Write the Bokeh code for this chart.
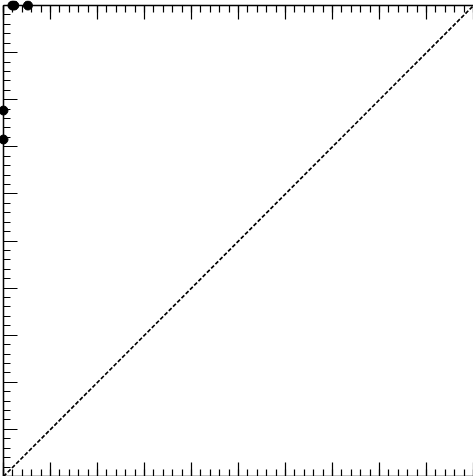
from bokeh.plotting import figure
from bokeh.models import LinearAxis, SingleIntervalTicker, Range1d, CustomJSTickFormatter
from bokeh.embed import file_html
from bokeh.resources import INLINE

# data: points (false positive rate, true positive rate) and reference diagonal
pts_x = [0.0, 0.0, 0.019, 0.023, 0.052]
pts_y = [0.7155, 0.777, 1.0, 1.0, 1.0]
diag_x = [0.0, 1.0]
diag_y = [0.0, 1.0]

# a few extra pixels of frame on the left and top so that edge points are not cut
PAD = 5
FW, FH = 470, 471
p = figure(frame_width=FW + PAD, frame_height=FH + PAD, output_backend="svg",
           toolbar_location=None,
           x_range=Range1d(-PAD / FW, 1), y_range=Range1d(0, 1 + PAD / FH),
           x_axis_location=None, y_axis_location=None, min_border=0,
           margin=(5 - PAD, 0, 0, 3 - PAD))
p.outline_line_color = None
p.grid.visible = False
p.background_fill_color = "white"
p.border_fill_color = "white"


def make_axis(loc=None):
    ax = LinearAxis(ticker=SingleIntervalTicker(interval=0.1, num_minor_ticks=5),
                    formatter=CustomJSTickFormatter(code="return ''"),
                    bounds=(0, 1))
    if loc is not None:
        ax.fixed_location = loc
    ax.major_tick_in = 14
    ax.major_tick_out = 0
    ax.minor_tick_in = 7
    ax.minor_tick_out = 0
    ax.major_tick_line_color = "black"
    ax.minor_tick_line_color = "black"
    ax.major_tick_line_width = 1.2
    ax.minor_tick_line_width = 1.2
    ax.axis_line_color = "black"
    ax.axis_line_width = 1.5
    ax.major_label_standoff = 0
    return ax


p.add_layout(make_axis(), "below")
p.add_layout(make_axis(1), "above")
p.add_layout(make_axis(0), "left")

p.line(diag_x, diag_y, line_color="black", line_width=1.7, line_dash="4 2")
p.scatter(pts_x, pts_y, size=9, color="black")

open("out.html", "w").write(file_html(p, INLINE))
